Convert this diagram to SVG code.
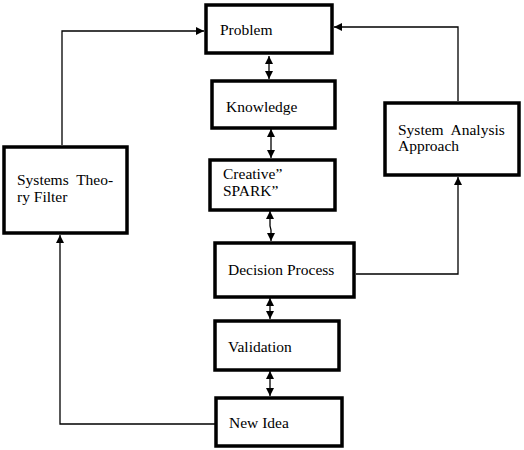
<svg xmlns="http://www.w3.org/2000/svg" width="524" height="450" viewBox="0 0 524 450">
<style>
.box{fill:#fff;stroke:#000;stroke-width:3.5}
.t{font-family:"Liberation Serif","Times New Roman",serif;font-size:15.5px;fill:#000;white-space:pre}
.c{fill:none;stroke:#000;stroke-width:1.3}
</style>
<defs>
<marker id="ah" viewBox="0 0 10 10" refX="10" refY="5" markerWidth="8" markerHeight="8" markerUnits="userSpaceOnUse" orient="auto-start-reverse">
<path d="M0,0 L10,5 L0,10 z" fill="#000"/>
</marker>
</defs>
<rect width="524" height="450" fill="#fff"/>
<g id="connectors">
<line class="c" x1="269" y1="56" x2="269" y2="79" marker-start="url(#ah)" marker-end="url(#ah)"/>
<line class="c" x1="271" y1="129" x2="271" y2="158" marker-start="url(#ah)" marker-end="url(#ah)"/>
<path class="c" d="M270,211 L270,226 L271,230 L271,241" marker-start="url(#ah)" marker-end="url(#ah)"/>
<line class="c" x1="270" y1="298" x2="270" y2="319" marker-start="url(#ah)" marker-end="url(#ah)"/>
<line class="c" x1="270" y1="371" x2="270" y2="396" marker-start="url(#ah)" marker-end="url(#ah)"/>
<path class="c" d="M215,424 L60,424 L60,235" marker-end="url(#ah)"/>
<path class="c" d="M62,145 L62,31 L204,31" marker-end="url(#ah)"/>
<path class="c" d="M458,101 L458,27 L334,27" marker-end="url(#ah)"/>
<path class="c" d="M356,274 L458,274 L458,177" marker-end="url(#ah)"/>
</g>
<g id="problem">
<rect class="box" x="206" y="5" width="126" height="48"/>
<text class="t" x="220" y="35">Problem</text>
</g>
<g id="knowledge">
<rect class="box" x="212" y="81" width="123" height="47"/>
<text class="t" x="226" y="112">Knowledge</text>
</g>
<g id="creative-spark">
<rect class="box" x="210" y="160" width="125" height="50"/>
<text class="t" x="223" y="179">Creative”</text>
<text class="t" x="223" y="196">SPARK”</text>
</g>
<g id="decision-process">
<rect class="box" x="215" y="243" width="139" height="54"/>
<text class="t" x="228" y="275">Decision Process</text>
</g>
<g id="validation">
<rect class="box" x="215" y="321" width="124" height="49"/>
<text class="t" x="228" y="352">Validation</text>
</g>
<g id="new-idea">
<rect class="box" x="216" y="398" width="126" height="48"/>
<text class="t" x="229" y="428">New Idea</text>
</g>
<g id="systems-theory-filter">
<rect class="box" x="4" y="147" width="123" height="86"/>
<text class="t" x="17" y="185" xml:space="preserve">Systems  Theo-</text>
<text class="t" x="17" y="202">ry Filter</text>
</g>
<g id="system-analysis-approach">
<rect class="box" x="385" y="103" width="134" height="72"/>
<text class="t" x="398" y="135" xml:space="preserve">System  Analysis</text>
<text class="t" x="398" y="151">Approach</text>
</g>
</svg>
